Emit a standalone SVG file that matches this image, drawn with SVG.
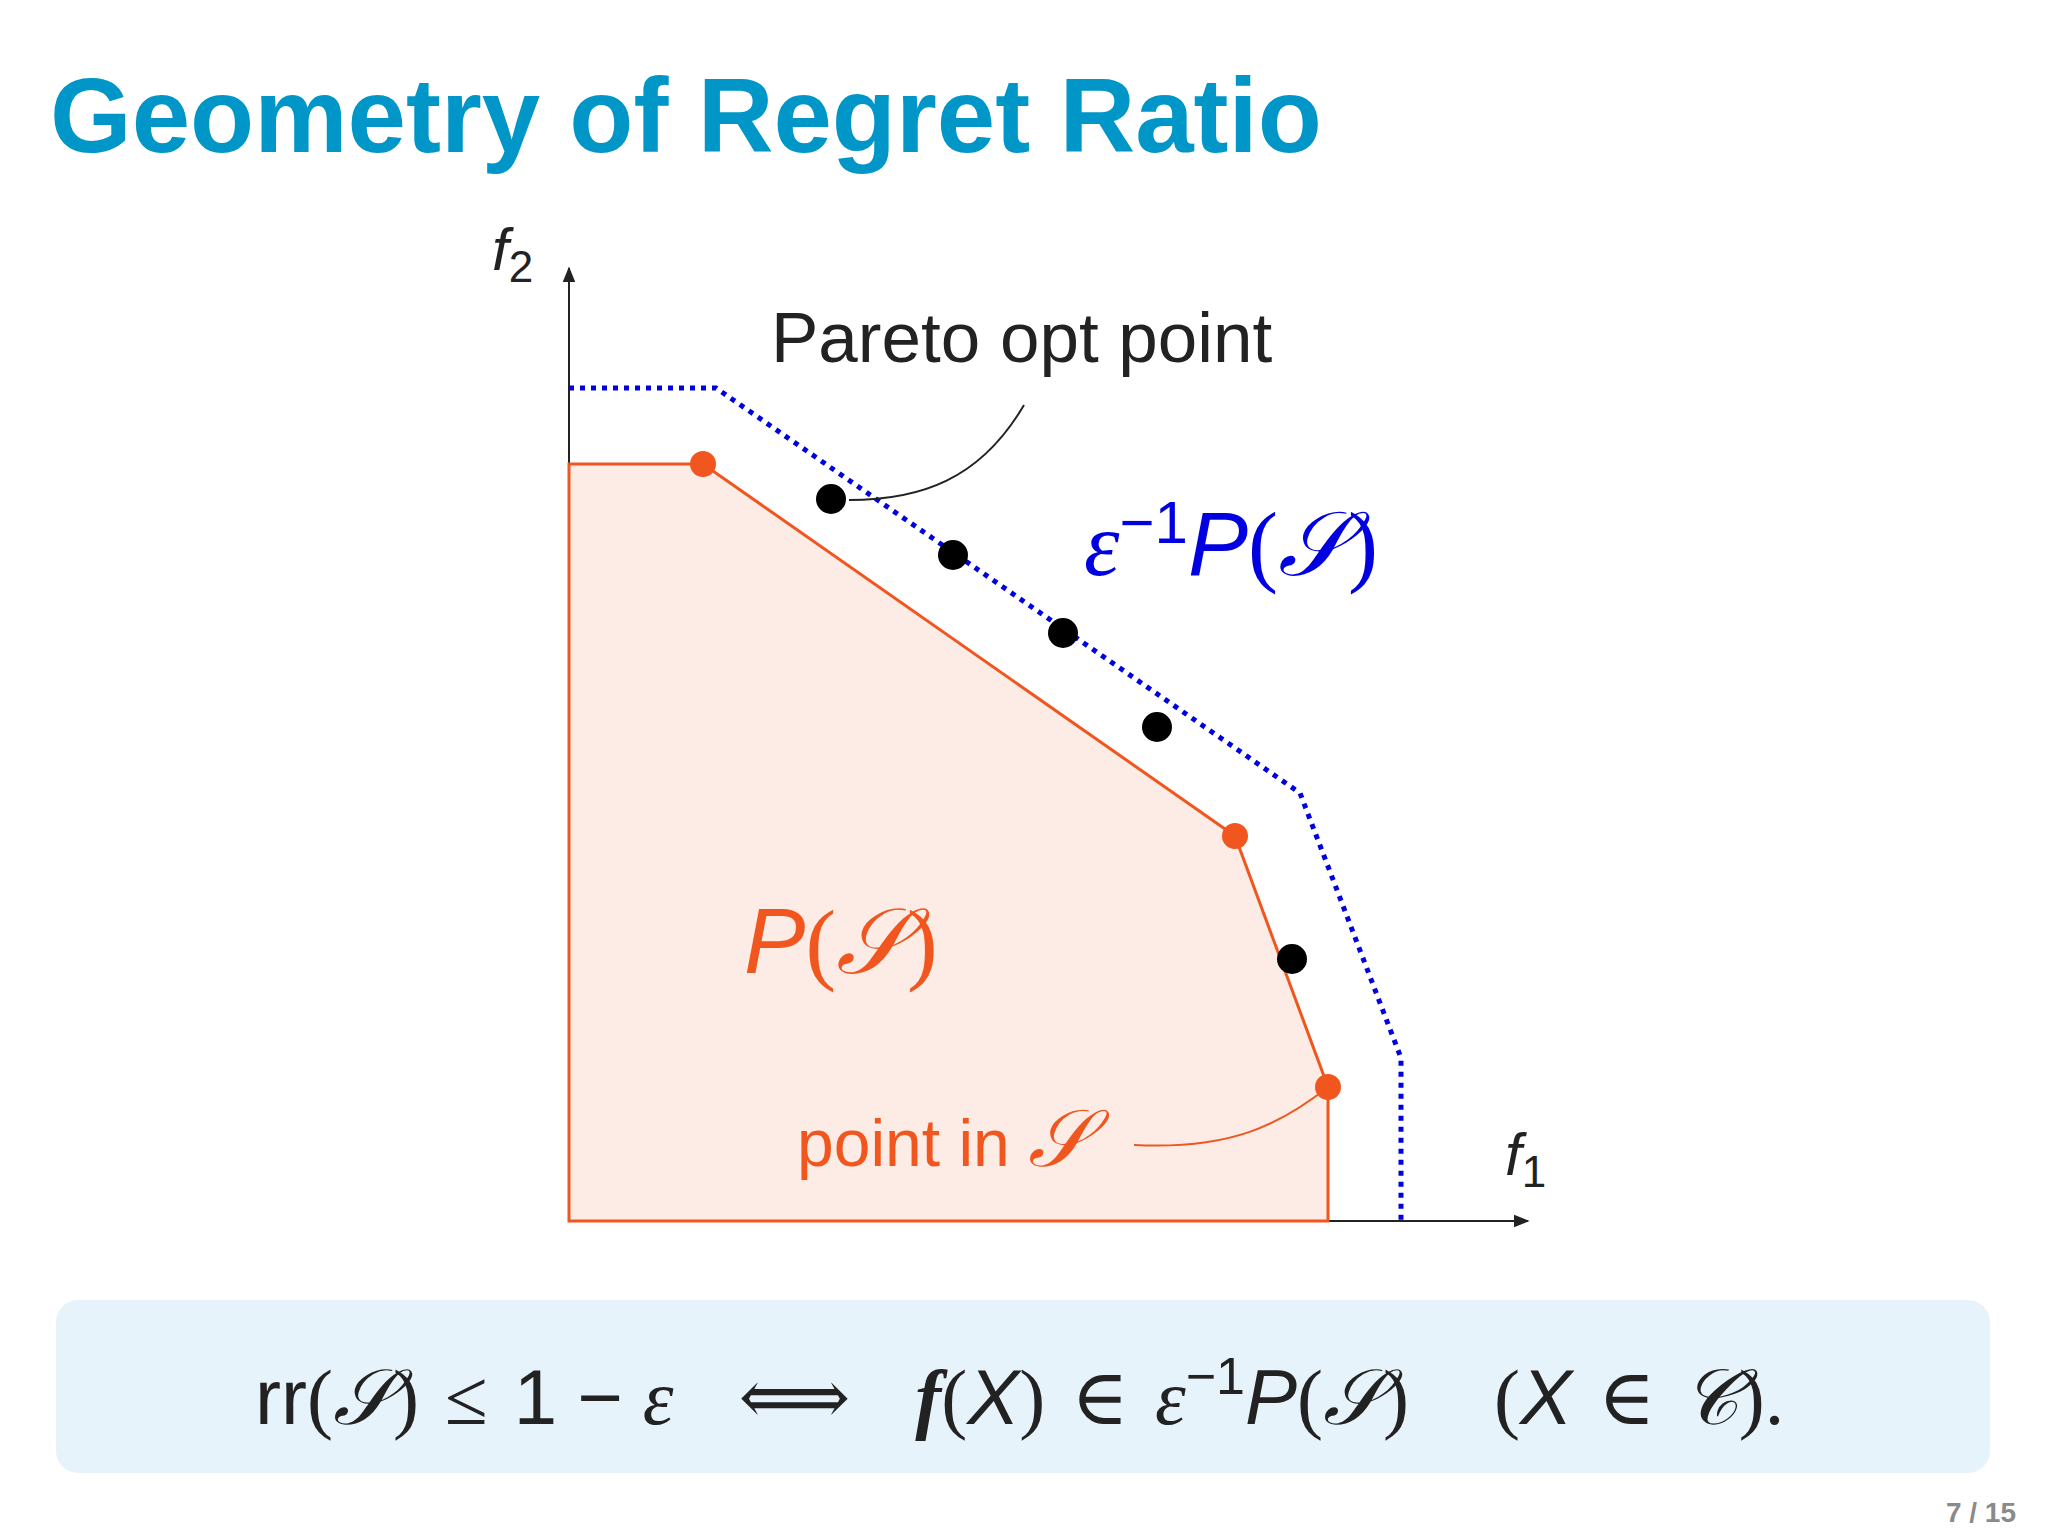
<svg xmlns="http://www.w3.org/2000/svg" width="2048" height="1536" viewBox="0 0 2048 1536">
<defs>
<style>
.sans{font-family:"Liberation Sans",Arial,sans-serif}
.serif{font-family:"Liberation Serif","DejaVu Serif",serif}
.it{font-style:italic}
.or{fill:#f0561e}
.bl{fill:#0000e0}
</style>
<marker id="ah" viewBox="0 0 10 10" refX="9" refY="5" markerWidth="8" markerHeight="8" orient="auto"><path d="M0,1 L10,5 L0,9 Z" fill="#222"/></marker>
</defs>
<rect width="2048" height="1536" fill="#fff"/>
<text x="50" y="152" class="sans" font-size="105" font-weight="bold" fill="#0096c8">Geometry of Regret Ratio</text>
<g id="axes" stroke="#222" stroke-width="2" fill="none">
<line x1="569" y1="1221" x2="569" y2="268" marker-end="url(#ah)"/>
<line x1="569" y1="1221" x2="1528" y2="1221" marker-end="url(#ah)"/>
</g>
<text x="492" y="270" class="sans" font-size="60" fill="#222"><tspan class="it">f</tspan><tspan font-size="44" dy="12">2</tspan></text>
<text x="1505" y="1175" class="sans" font-size="60" fill="#222"><tspan class="it">f</tspan><tspan font-size="44" dy="12">1</tspan></text>
<g id="PS">
<polygon points="569,464 703,464 1235,836 1328,1087 1328,1221 569,1221" fill="#fdece5" stroke="#f0561e" stroke-width="3"/>
</g>
<g id="eps">
<polyline points="569,388 716,388 1300,793 1401,1058 1401,1221" fill="none" stroke="#0000e0" stroke-width="5" stroke-dasharray="5,6"/>
</g>
<g id="connectors" fill="none" stroke-width="2">
<path d="M1024,405 C980,480 920,500 849,500" stroke="#222"/>
<path d="M1134,1145 C1230,1150 1280,1125 1328,1087" stroke="#f0561e"/>
</g>
<g id="spoints" class="or">
<circle cx="703" cy="464" r="13"/><circle cx="1235" cy="836" r="13"/><circle cx="1328" cy="1087" r="13"/>
</g>
<g id="ppoints" fill="#000">
<circle cx="831" cy="499" r="15"/><circle cx="953" cy="555" r="15"/><circle cx="1063" cy="633" r="15"/><circle cx="1157" cy="727" r="15"/><circle cx="1292" cy="959" r="15"/>
</g>
<text x="771" y="362" class="sans" font-size="71" fill="#222">Pareto opt point</text>
<text x="1084" y="575" font-size="90" class="bl"><tspan class="serif it">ε</tspan><tspan class="sans" font-size="60" dy="-32">−1</tspan><tspan class="sans it" dy="32">P</tspan><tspan class="serif">(</tspan><tspan class="serif it">𝒮</tspan><tspan class="serif">)</tspan></text>
<text x="744" y="973" font-size="92" class="or"><tspan class="sans it">P</tspan><tspan class="serif">(</tspan><tspan class="serif it">𝒮</tspan><tspan class="serif">)</tspan></text>
<text x="797" y="1166" font-size="66" class="or"><tspan class="sans">point in </tspan><tspan class="serif it" font-size="80">𝒮</tspan></text>
<g id="formula">
<rect x="56" y="1300" width="1934" height="173" rx="22" fill="#e6f3fb"/>
<text x="255" y="1424" font-size="78" fill="#222"><tspan class="sans">rr</tspan><tspan class="serif">(</tspan><tspan class="serif it">𝒮</tspan><tspan class="serif">)</tspan><tspan class="serif" dx="26">≤</tspan><tspan class="sans" dx="26">1</tspan><tspan class="sans" dx="20">−</tspan><tspan class="serif it" dx="20">ε</tspan><tspan class="serif" dx="65">⟺</tspan><tspan class="serif it" font-weight="bold" dx="65">f</tspan><tspan class="serif">(</tspan><tspan class="sans it">X</tspan><tspan class="serif">)</tspan><tspan class="serif" dx="26">∈</tspan><tspan class="serif it" dx="26">ε</tspan><tspan class="sans" font-size="52" dy="-30">−1</tspan><tspan class="sans it" dy="30">P</tspan><tspan class="serif">(</tspan><tspan class="serif it">𝒮</tspan><tspan class="serif">)</tspan><tspan class="serif" dx="85">(</tspan><tspan class="sans it">X</tspan><tspan class="serif" dx="26">∈</tspan><tspan class="serif it" dx="26">𝒞</tspan><tspan class="serif">).</tspan></text>
</g>
<text x="2016" y="1522" text-anchor="end" class="sans" font-size="28" font-weight="bold" fill="#8a8a8a">7 / 15</text>
</svg>
